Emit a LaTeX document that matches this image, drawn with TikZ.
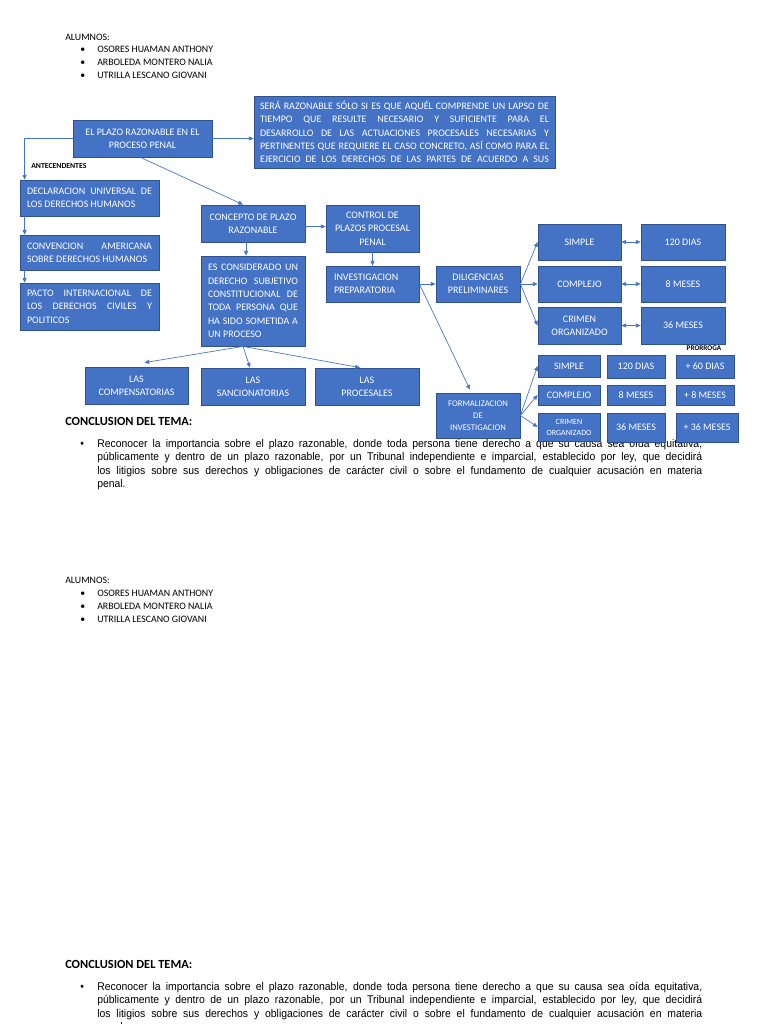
\documentclass[tikz,border=0pt]{standalone}
\usepackage{fontspec}
\setmainfont{Carlito}
\newfontfamily\narrowfont[FakeStretch=0.93]{Liberation Sans}
\usetikzlibrary{shapes,arrows.meta,positioning,calc}
\definecolor{boxfill}{HTML}{4472C4}
\definecolor{boxline}{HTML}{2F528F}
\definecolor{linkblue}{HTML}{4472C4}
\newcommand{\conclusiontext}{Reconocer la importancia sobre el plazo razonable, donde toda persona tiene derecho a que su causa sea oída equitativa,\linebreak públicamente y dentro de un plazo razonable, por un Tribunal independiente e imparcial, establecido por ley, que decidirá\linebreak los litigios sobre sus derechos y obligaciones de carácter civil o sobre el fundamento de cualquier acusación en materia\linebreak penal.}

\begin{document}
\begin{tikzpicture}[x=0.75pt,y=0.75pt,yscale=-1,xscale=1,
  box/.style={draw=boxline, fill=boxfill, text=white, line width=0.6pt, inner sep=0pt, align=center,
    font=\fontsize{7.5}{10}\selectfont, execute at begin node={\hyphenpenalty=10000\tolerance=10000}},
  justbox/.style={box, align=justify},
  link/.style={draw=linkblue, line width=0.5pt, -{Triangle[length=3.5pt,width=3pt]}},
  both/.style={draw=linkblue, line width=0.5pt, {Triangle[length=3.5pt,width=3pt]}-{Triangle[length=3.5pt,width=3pt]}},
  plain/.style={inner sep=0pt, anchor=base west, font=\fontsize{7.4}{9}\selectfont},
  parrafo/.style={inner sep=0pt, anchor=north west, text width=453.75pt, align=justify,
    font=\narrowfont\fontsize{8.4}{10.1}\selectfont, execute at begin node={\hyphenpenalty=10000\tolerance=10000}}]
\useasboundingbox[fill=white] (0,0) rectangle (768,1024);

% Header
\node[plain] (alumnos) at (65,40.5) {ALUMNOS:};
\node[plain] (punto1) at (80,53) {\textbullet};
\node[plain] (nombre1) at (97,53) {OSORES HUAMAN ANTHONY};
\node[plain] (punto2) at (80,66) {\textbullet};
\node[plain] (nombre2) at (97,66) {ARBOLEDA MONTERO NALIA};
\node[plain] (punto3) at (80,79) {\textbullet};
\node[plain] (nombre3) at (97,79) {UTRILLA LESCANO GIOVANI};

% Conclusion
\node[plain, font=\bfseries\fontsize{9.3}{11}\selectfont] (conclusion) at (65,425) {CONCLUSION DEL TEMA:};
\node[plain, font=\narrowfont\fontsize{8.4}{10.1}\selectfont] (punto4) at (80,447) {\textbullet};
\node[parrafo] (texto) at (97,439) {\conclusiontext};

% Text Node
\node[box, minimum width=104.25pt, minimum height=27.75pt] (plazo) at (142.5,138.5) {EL PLAZO RAZONABLE EN EL\\PROCESO PENAL};
% Text Node
\node[justbox, minimum width=225.75pt, minimum height=54pt, text width=216.75pt] (sera) at (404.5,132) {SERÁ RAZONABLE SÓLO SI ES QUE AQUÉL COMPRENDE UN LAPSO DE\linebreak TIEMPO QUE RESULTE NECESARIO Y SUFICIENTE PARA EL\linebreak DESARROLLO DE LAS ACTUACIONES PROCESALES NECESARIAS Y\linebreak PERTINENTES QUE REQUIERE EL CASO CONCRETO, ASÍ COMO PARA EL\linebreak \makebox[216.75pt][s]{EJERCICIO DE LOS DERECHOS DE LAS PARTES DE ACUERDO A SUS}};
\node[plain, font=\bfseries\fontsize{5.8}{7}\selectfont] (antec) at (31,168.5) {ANTECENDENTES};
% Text Node
\node[justbox, minimum width=104.25pt, minimum height=27pt, text width=93.75pt] (declaracion) at (89.5,198) {DECLARACION UNIVERSAL DE\linebreak LOS DERECHOS HUMANOS};
% Text Node
\node[justbox, minimum width=104.25pt, minimum height=26.25pt, text width=93.75pt] (convencion) at (89.5,252.5) {CONVENCION AMERICANA\linebreak SOBRE DERECHOS HUMANOS};
% Text Node
\node[justbox, minimum width=104.25pt, minimum height=35.25pt, text width=93.75pt] (pacto) at (89.5,306.5) {PACTO INTERNACIONAL DE\linebreak LOS DERECHOS CIVILES Y\linebreak POLITICOS};
% Text Node
\node[box, minimum width=78pt, minimum height=27.75pt] (concepto) at (253,223.5) {CONCEPTO DE PLAZO\\RAZONABLE};
% Text Node
\node[justbox, minimum width=78pt, minimum height=67.5pt, text width=67.5pt] (escons) at (253,301) {ES CONSIDERADO UN\linebreak DERECHO SUBJETIVO\linebreak CONSTITUCIONAL DE\linebreak TODA PERSONA QUE\linebreak HA SIDO SOMETIDA A\linebreak UN PROCESO};
% Text Node
\node[box, minimum width=69.75pt, minimum height=35.25pt] (control) at (372.5,228.5) {CONTROL DE\\PLAZOS PROCESAL\\PENAL};
% Text Node
\node[box, minimum width=69.75pt, minimum height=27pt, align=left, text width=57.75pt] (invest) at (372.5,284) {INVESTIGACION\\PREPARATORIA};
% Text Node
\node[box, minimum width=77.25pt, minimum height=27.75pt] (compens) at (136.5,385.5) {LAS\\COMPENSATORIAS};
% Text Node
\node[box, minimum width=78pt, minimum height=27.75pt] (sancion) at (253,386.5) {LAS\\SANCIONATORIAS};
% Text Node
\node[box, minimum width=78pt, minimum height=27.75pt] (procesales) at (367,386.5) {LAS\\PROCESALES};
% Text Node
\node[box, minimum width=63pt, minimum height=27pt] (dilig) at (478,284) {DILIGENCIAS\\PRELIMINARES};
% Text Node
\node[box, minimum width=63pt, minimum height=33.75pt, font=\fontsize{6.5}{9}\selectfont] (formal) at (478,415.5) {FORMALIZACION\\DE\\INVESTIGACION};
% Text Node
\node[box, minimum width=62.25pt, minimum height=27pt] (simple1) at (579.5,242) {SIMPLE};
\node[box, minimum width=62.25pt, minimum height=27pt] (complejo1) at (579.5,284) {COMPLEJO};
\node[box, minimum width=62.25pt, minimum height=27.75pt] (crimen1) at (579.5,325.5) {CRIMEN\\ORGANIZADO};
% Text Node
\node[box, minimum width=63pt, minimum height=27pt] (dias1) at (683,242) {120 DIAS};
\node[box, minimum width=63pt, minimum height=27pt] (meses1) at (683,284) {8 MESES};
\node[box, minimum width=63pt, minimum height=27.75pt] (meses2) at (683,325.5) {36 MESES};
\node[inner sep=0pt, font=\bfseries\fontsize{5.4}{6}\selectfont] (prorroga) at (704,348) {PRORROGA};
% Text Node
\node[box, minimum width=46.5pt, minimum height=16.5pt] (simple2) at (569,366) {SIMPLE};
\node[box, minimum width=43.5pt, minimum height=17.25pt] (dias2) at (636,366.5) {120 DIAS};
\node[box, minimum width=43.5pt, minimum height=17.25pt] (dias3) at (705,366.5) {+ 60 DIAS};
% Text Node
\node[box, minimum width=46.5pt, minimum height=15pt] (complejo2) at (569,395) {COMPLEJO};
\node[box, minimum width=43.5pt, minimum height=15pt] (meses3) at (636,395) {8 MESES};
\node[box, minimum width=43.5pt, minimum height=15pt] (meses4) at (705,395) {+ 8 MESES};
% Text Node
\node[box, minimum width=46.5pt, minimum height=21pt, font=\fontsize{6}{8.25}\selectfont] (crimen2) at (569,427) {CRIMEN\\ORGANIZADO};
\node[box, minimum width=43.5pt, minimum height=21.75pt] (meses5) at (636,427.5) {36 MESES};
\node[box, minimum width=46.5pt, minimum height=21.75pt] (meses6) at (707,427.5) {+ 36 MESES};

% Connectors
\draw[link] (plazo.east) -- (plazo.east -| sera.west);
\draw[link] (plazo.west) -| ($(declaracion.north west)+(5,0)$);
\draw[link] ($(declaracion.south west)+(5,0)$) -- ($(convencion.north west)+(5,0)$);
\draw[link] ($(convencion.south west)+(5,0)$) -- ($(pacto.north west)+(5,0)$);
\draw[link] ($(plazo.south)+(-2,0)$) -- ($(concepto.north)+(-10,0)$);
\draw[link] ($(concepto.east)+(0,3)$) -- ($(control.west)+(0,-2)$);
\draw[link] (control.south) -- (invest.north);
\draw[link] ($(concepto.south)+(-7,0)$) -- ($(escons.north)+(-7,0)$);
\draw[link] ($(escons.south)+(-10,0)$) -- ($(compens.north)+(8,-4)$);
\draw[link] ($(escons.south)+(-10,0)$) -- ($(sancion.north)+(-3,0)$);
\draw[link] ($(escons.south)+(-10,0)$) -- ($(procesales.north)+(-7,0)$);
\draw[link] (invest.east) -- (dilig.west);
\draw[link] (invest.east) -- ($(formal.north)+(-8,-3)$);
\draw[link] (dilig.east) -- (simple1.west);
\draw[link] (dilig.east) -- (complejo1.west);
\draw[link] (dilig.east) -- (crimen1.west);
\draw[both] (simple1.east) -- (dias1.west);
\draw[both] (complejo1.east) -- (meses1.west);
\draw[both] (crimen1.east) -- (meses2.west);
\draw[link] (formal.east) -- (simple2.west);
\draw[link] (formal.east) -- (complejo2.west);
\draw[link] (formal.east) -- (crimen2.west);

% Header, second page
\node[plain] (alumnosb) at (65,583.5) {ALUMNOS:};
\node[plain] (punto1b) at (80,596) {\textbullet};
\node[plain] (nombre1b) at (97,596) {OSORES HUAMAN ANTHONY};
\node[plain] (punto2b) at (80,609) {\textbullet};
\node[plain] (nombre2b) at (97,609) {ARBOLEDA MONTERO NALIA};
\node[plain] (punto3b) at (80,622) {\textbullet};
\node[plain] (nombre3b) at (97,622) {UTRILLA LESCANO GIOVANI};

% Conclusion, second page
\node[plain, font=\bfseries\fontsize{9.3}{11}\selectfont] (conclusionb) at (65,968) {CONCLUSION DEL TEMA:};
\node[plain, font=\narrowfont\fontsize{8.4}{10.1}\selectfont] (punto4b) at (80,990) {\textbullet};
\node[parrafo] (textob) at (97,982) {\conclusiontext};
\end{tikzpicture}
\end{document}
